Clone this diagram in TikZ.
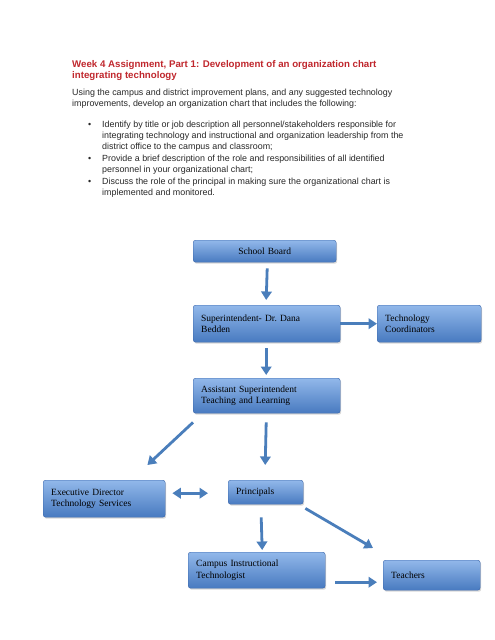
\documentclass[tikz,border=0pt]{standalone}
\usepackage{fontspec}
\setmainfont{Liberation Serif}
\newfontfamily\headfont{Liberation Sans}
\usepackage{tikz}
\usetikzlibrary{arrows.meta,shadows,calc}
\definecolor{titlered}{RGB}{192,39,45}
\definecolor{bodygray}{RGB}{40,40,40}
\definecolor{boxtop}{RGB}{146,184,234}
\definecolor{boxbot}{RGB}{72,122,192}
\definecolor{boxline}{RGB}{60,104,172}
\definecolor{flowblue}{RGB}{74,126,187}
\tikzset{
  orgbox/.style={rounded corners=2.5pt, draw=boxline, top color=boxtop, bottom color=boxbot,
    drop shadow={shadow xshift=1pt, shadow yshift=-1.5pt, opacity=0.3},
    align=left, inner xsep=8pt, inner ysep=0pt, anchor=north west,
    font=\fontsize{9.5}{11.5}\selectfont},
  flow/.style={draw=flowblue, line width=2.8pt, -{Triangle[width=10.5pt,length=8.5pt]}},
  twoway/.style={flow, {Triangle[width=10.5pt,length=8.5pt]}-{Triangle[width=10.5pt,length=8.5pt]}},
  sheettext/.style={anchor=north west, inner sep=0pt, align=left, text=bodygray,
    font=\headfont\fontsize{8.9}{11}\selectfont},
}
\begin{document}
\begin{tikzpicture}[x=1pt, y=-1pt]
  \useasboundingbox[fill=white] (0,0) rectangle (495,640);

  % assignment text
  \node[sheettext, text=titlered, font=\headfont\bfseries\fontsize{9.7}{11.5}\selectfont] (title) at (72,60)
    {Week 4 Assignment, Part 1: Development of an organization chart\\integrating technology};
  \node[sheettext] (intro) at (72,89)
    {Using the campus and district improvement plans, and any suggested technology\\
     improvements, develop an organization chart that includes the following:};
  \node[sheettext] (dot1) at (88,123) {\textbullet};
  \node[sheettext] (item1) at (102,121)
    {Identify by title or job description all personnel/stakeholders responsible for\\
     integrating technology and instructional and organization leadership from the\\
     district office to the campus and classroom;};
  \node[sheettext] (dot2) at (88,157) {\textbullet};
  \node[sheettext] (item2) at (102,155)
    {Provide a brief description of the role and responsibilities of all identified\\
     personnel in your organizational chart;};
  \node[sheettext] (dot3) at (88,180) {\textbullet};
  \node[sheettext] (item3) at (102,178)
    {Discuss the role of the principal in making sure the organizational chart is\\
     implemented and monitored.};

  % chart
  \node[orgbox, align=center, text width=127, minimum height=22] (board) at (193,240) {School Board};
  \node[orgbox, text width=131, minimum height=37] (super) at (193,305) {Superintendent- Dr.\ Dana\\Bedden};
  \node[orgbox, text width=88, minimum height=37] (tech) at (377,305) {Technology\\Coordinators};
  \node[orgbox, text width=131, minimum height=35] (asst) at (193,378) {Assistant Superintendent\\Teaching and Learning};
  \node[orgbox, text width=106, minimum height=37] (exec) at (43,480) {Executive Director\\Technology Services};
  \node[orgbox, text width=59, minimum height=24] (prin) at (228,480) {Principals};
  \node[orgbox, text width=121, minimum height=36] (campus) at (188,552) {Campus Instructional\\Technologist};
  \node[orgbox, text width=81, minimum height=30] (teach) at (383,560) {Teachers};

  \draw[flow] ($(board.south)+(2.5,6)$) -- ($(super.north)+(-0.5,-5)$);
  \draw[flow] (super.east) -- (tech.west);
  \draw[flow] ($(super.south)+(-0.5,6)$) -- ($(asst.north)+(-0.5,-3)$);
  \draw[flow] ($(asst.south)+(-0.5,9)$) -- ($(prin.north)+(-0.5,-15)$);
  \draw[flow] ($(asst.south west)+(0,9)$) -- ($(exec.north east)+(-18,-15)$);
  \draw[twoway] ($(exec.east)+(7,-5.5)$) -- ($(prin.west)+(-20,1)$);
  \draw[flow] ($(prin.south)+(-4.5,13)$) -- ($(campus.north)+(5.5,-2)$);
  \draw[flow] ($(prin.south east)+(2,4)$) -- ($(teach.north west)+(-10,-12)$);
  \draw[flow] ($(campus.east)+(10,12)$) -- ($(teach.west)+(-6,7)$);
\end{tikzpicture}
\end{document}
